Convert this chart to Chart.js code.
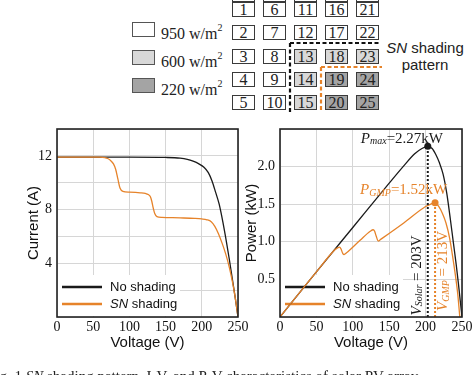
<!DOCTYPE html>
<html>
<head>
<meta charset="utf-8">
<script src="https://cdn.jsdelivr.net/npm/chart.js@4.4.1/dist/chart.umd.min.js"></script>
<style>
  html, body { margin: 0; padding: 0; background: #fff; }
  body { width: 474px; height: 375px; position: relative; overflow: hidden;
         font-family: "Liberation Serif", "Times New Roman", serif; color: #222; }
  .cell { position: absolute; width: 23px; height: 15px; box-sizing: border-box;
          border: 1.5px solid #3a3a3a; font-size: 16px; line-height: 13px; text-align: center; }
  .lg-box { position: absolute; left: 132px; width: 23px; height: 15px; box-sizing: border-box;
            border: 1.5px solid #555; }
  .lg-text { position: absolute; left: 161px; font-size: 16px; line-height: 16px; white-space: nowrap; }
  .lg-text sup { font-size: 10px; position: relative; top: -2px; }
  .sans { font-family: "Liberation Sans", Arial, sans-serif; }
  #ivChart { position: absolute; left: 0; top: 120px; }
  #pvChart { position: absolute; left: 240px; top: 120px; }
  #caption { position: absolute; left: -13px; top: 369px; font-size: 15px; line-height: 15px; white-space: nowrap; }
</style>
</head>
<body>

<div id="diagram"></div>

<svg width="474" height="120" style="position:absolute;left:0;top:0">
  <path d="M290 43 H380 M290 43 V112" stroke="#111" stroke-width="2.2" fill="none" stroke-dasharray="4 2.5"/>
  <path d="M321 67 H382 M321 67 V112" stroke="#e6832a" stroke-width="2.2" fill="none" stroke-dasharray="4 2.5"/>
</svg>

<div class="sans" style="position:absolute;left:386px;top:39px;font-size:15px;line-height:17px;text-align:center;width:78px">
  <i>SN</i> shading<br>pattern
</div>

<canvas id="ivChart" width="260" height="255"></canvas>
<canvas id="pvChart" width="234" height="255"></canvas>

<div id="caption">Fig. 1 <i>SN</i> shading pattern, I-V, and P-V characteristics of solar PV array</div>

<script>
// ---- shading pattern (modules numbered column by column)
const cellColumns = [
    [1, 2, 3, 4, 5],
    [6, 7, 8, 9, 10],
    [11, 12, 13, 14, 15],
    [16, 17, 18, 19, 20],
    [21, 22, 23, 24, 25]
];
const shaded600 = [13, 14, 15, 18, 23];
const shaded220 = [19, 20, 24, 25];
const irradianceLabels = ['950', '600', '220'];

// ---- I-V curves
const ivVoltNoShade = [0, 50, 100, 150, 170, 180, 188, 196, 203, 209, 214, 219, 224, 229, 234, 238, 242, 246, 250];
const ivCurrNoShade = [11.9, 11.9, 11.9, 11.88, 11.83, 11.74, 11.6, 11.4, 11.15, 10.75, 10.15, 9.3, 8.4, 7.1, 5.6, 4.3, 2.9, 1.5, 0];

const ivVoltSN = [0, 60, 66, 70, 74, 78, 81, 84, 87, 91, 100, 115, 122, 126, 129, 131, 133, 135, 138, 145, 170, 190, 200, 207, 213, 218, 223, 228, 233, 238, 242, 246, 250];
const ivCurrSN = [11.9, 11.9, 11.87, 11.8, 11.65, 11.4, 11.0, 10.3, 9.6, 9.35, 9.3, 9.25, 9.2, 9.12, 8.95, 8.6, 8.1, 7.7, 7.47, 7.42, 7.38, 7.34, 7.3, 7.24, 7.1, 6.75, 6.2, 5.5, 4.7, 3.7, 2.7, 1.5, 0];

// ---- P-V curves
const pvVoltNoShade = [0, 50, 100, 150, 170, 185, 195, 203, 209, 214, 219, 224, 229, 234, 238, 242, 245, 248, 250];
const pvPowNoShade = [0, 0.6, 1.19, 1.78, 2.01, 2.17, 2.24, 2.27, 2.24, 2.16, 2.05, 1.9, 1.65, 1.3, 1.0, 0.7, 0.45, 0.18, 0];

const pvVoltSN = [0, 50, 75, 79, 82, 84, 86, 88, 91, 110, 124, 128, 130, 132, 135, 138, 170, 200, 207, 213, 218, 223, 228, 233, 238, 241, 244, 247];
const pvPowSN = [0, 0.6, 0.89, 0.92, 0.93, 0.9, 0.85, 0.83, 0.85, 1.02, 1.14, 1.16, 1.14, 1.08, 1.01, 1.03, 1.25, 1.47, 1.5, 1.52, 1.47, 1.38, 1.25, 1.05, 0.75, 0.55, 0.32, 0];

const pmaxPoint = { v: 203, p: 2.27 };
const gmpPoint = { v: 213, p: 1.52 };

// ---- axes
const voltageRange = [0, 250];
const currentRange = [0, 14];
const powerRange = [0, 2.5];
const currentTickLabels = [4, 8, 12];
const powerTickLabels = [0.5, 1.0, 1.5, 2.0];

const BLACK = '#1a1a1a';
const ORANGE = '#e6832a';
const SERIF = '"Liberation Serif", "Times New Roman", serif';
const SANS = '"Liberation Sans", Arial, sans-serif';

// build the shading diagram
const diagram = document.getElementById('diagram');
const colX = [232, 263, 294, 325, 356];
const rowY = [2, 25, 49, 72, 95];
cellColumns.forEach((col, ci) => {
    // bottom edge of the row cut off above the picture
    const stub = document.createElement('div');
    stub.className = 'cell';
    stub.style.left = colX[ci] + 'px';
    stub.style.top = '-13px';
    diagram.appendChild(stub);
    col.forEach((num, ri) => {
        const cell = document.createElement('div');
        cell.className = 'cell';
        cell.style.left = colX[ci] + 'px';
        cell.style.top = rowY[ri] + 'px';
        cell.style.background = shaded220.includes(num) ? '#a4a4a4' : shaded600.includes(num) ? '#d8d8d8' : '#fff';
        cell.textContent = num;
        diagram.appendChild(cell);
    });
});
const lgColors = ['#fff', '#d8d8d8', '#a4a4a4'];
irradianceLabels.forEach((lab, i) => {
    const box = document.createElement('div');
    box.className = 'lg-box';
    box.style.top = (22 + i * 28) + 'px';
    box.style.background = lgColors[i];
    diagram.appendChild(box);
    const txt = document.createElement('div');
    txt.className = 'lg-text';
    txt.style.top = (22 + i * 28) + 'px';
    txt.innerHTML = lab + ' w/m<sup>2</sup>';
    diagram.appendChild(txt);
});

function toPoints(xs, ys) {
    return xs.map((x, i) => ({ x: x, y: ys[i] }));
}

function drawRich(ctx, x, y, parts) {
    let cx = x;
    parts.forEach(([text, font, dy]) => {
        ctx.font = font;
        ctx.fillText(text, cx, y + dy);
        cx += ctx.measureText(text).width;
    });
}

// frame round the plot area + legend box
const framePlugin = {
    id: 'frame',
    beforeDatasetsDraw(chart) {
        const ca = chart.chartArea;
        const ctx = chart.ctx;
        ctx.save();
        ctx.fillStyle = '#fff';
        ctx.fillRect(ca.left + 1, ca.top + 146, 122, ca.bottom - ca.top - 147);
        const rows = [[BLACK, [['No shading', '13px ' + SANS, 0]]],
                      [ORANGE, [['SN', 'italic 13px ' + SANS, 0], [' shading', '13px ' + SANS, 0]]]];
        rows.forEach(([color, parts], i) => {
            const y = ca.top + 158 + i * 17;
            ctx.strokeStyle = color;
            ctx.lineWidth = 2.5;
            ctx.beginPath();
            ctx.moveTo(ca.left + 5, y);
            ctx.lineTo(ca.left + 45, y);
            ctx.stroke();
            ctx.fillStyle = '#111';
            ctx.textBaseline = 'middle';
            drawRich(ctx, ca.left + 53, y, parts);
        });
        ctx.restore();
    },
    afterDraw(chart) {
        const ca = chart.chartArea;
        const ctx = chart.ctx;
        ctx.save();
        ctx.strokeStyle = '#222';
        ctx.lineWidth = 1.6;
        ctx.strokeRect(ca.left, ca.top, ca.right - ca.left, ca.bottom - ca.top);
        ctx.restore();
    }
};

// text notes on the P-V chart
const notePlugin = {
    id: 'notes',
    afterDatasetsDraw(chart) {
        const ctx = chart.ctx;
        const xs = chart.scales.x, ys = chart.scales.y;
        ctx.save();
        ctx.textBaseline = 'middle';
        ctx.textAlign = 'left';
        ctx.fillStyle = BLACK;
        drawRich(ctx, xs.getPixelForValue(111), ys.getPixelForValue(2.37), [
            ['P', 'italic 15px ' + SERIF, 0], ['max', 'italic 10px ' + SERIF, 3], ['=2.27kW', '15px ' + SERIF, 0]]);
        ctx.fillStyle = ORANGE;
        drawRich(ctx, xs.getPixelForValue(110), ys.getPixelForValue(1.69), [
            ['P', 'italic 15px ' + SERIF, 0], ['GMP', 'italic 10px ' + SERIF, 3], ['=1.52kW', '15px ' + SERIF, 0]]);

        const vert = (v, p, color, parts) => {
            ctx.save();
            ctx.translate(xs.getPixelForValue(v), ys.getPixelForValue(p));
            ctx.rotate(-Math.PI / 2);
            ctx.fillStyle = color;
            drawRich(ctx, 0, 0, parts);
            ctx.restore();
        };
        vert(188, 0.02, BLACK, [['V', 'italic 15px ' + SERIF, 0], ['Solar', 'italic 10px ' + SERIF, 3], [' = 203V', '15px ' + SERIF, 0]]);
        vert(224, 0.08, ORANGE, [['V', 'italic 15px ' + SERIF, 0], ['GMP', 'italic 10px ' + SERIF, 3], [' = 213V', '15px ' + SERIF, 0]]);
        ctx.restore();
    }
};

function voltageAxis() {
    return {
        type: 'linear',
        min: voltageRange[0],
        max: voltageRange[1],
        ticks: { stepSize: 50, padding: 2, color: '#111', autoSkip: false, maxRotation: 0,
                 font: { family: SERIF, size: 14 } },
        grid: { color: '#d6d6d6', lineWidth: 1, drawTicks: false },
        border: { display: false },
        title: { display: true, text: 'Voltage (V)', color: '#111',
                 font: { family: SANS, size: 15 }, padding: { top: 0, bottom: 23 } },
        afterFit(s) { s.height = 58; s.paddingLeft = 0; s.paddingRight = 0; }
    };
}

function valueAxis(range, step, labels, fmt, title, width, titlePad) {
    return {
        type: 'linear',
        min: range[0],
        max: range[1],
        ticks: { stepSize: step, padding: 5, color: '#111', autoSkip: false,
                 font: { family: SERIF, size: 14 },
                 callback: v => labels.includes(v) ? fmt(v) : '' },
        grid: { color: '#d6d6d6', lineWidth: 1, drawTicks: false },
        border: { display: false },
        title: { display: true, text: title, color: '#111',
                 font: { family: SANS, size: 15 }, padding: { top: titlePad, bottom: 0 } },
        afterFit(s) { s.width = width; s.paddingTop = 0; s.paddingBottom = 0; }
    };
}

function curve(points, color, order) {
    return { data: points, borderColor: color, borderWidth: 1.3, pointRadius: 0,
             showLine: true, cubicInterpolationMode: 'monotone', order: order };
}

const baseOptions = (scales, right) => ({
    responsive: false,
    animation: false,
    events: [],
    layout: { padding: { top: 9, right: right, bottom: 0, left: 0 } },
    plugins: { legend: { display: false }, tooltip: { enabled: false } },
    scales: scales
});

new Chart(document.getElementById('ivChart'), {
    type: 'scatter',
    data: {
        datasets: [
            curve(toPoints(ivVoltSN, ivCurrSN), ORANGE, 1),
            curve(toPoints(ivVoltNoShade, ivCurrNoShade), BLACK, 2)
        ]
    },
    options: baseOptions({
        x: voltageAxis(),
        y: valueAxis(currentRange, 2, currentTickLabels, v => String(v), 'Current (A)', 57, 24.5)
    }, 22),
    plugins: [framePlugin]
});

new Chart(document.getElementById('pvChart'), {
    type: 'scatter',
    data: {
        datasets: [
            { data: [{ x: pmaxPoint.v, y: pmaxPoint.p }, { x: gmpPoint.v, y: gmpPoint.p }],
              pointRadius: 3.5, pointBackgroundColor: [BLACK, ORANGE], pointBorderWidth: 0,
              showLine: false, order: 0 },
            { data: [{ x: pmaxPoint.v, y: 0 }, { x: pmaxPoint.v, y: pmaxPoint.p }], borderColor: BLACK,
              borderWidth: 2, borderDash: [2, 2], pointRadius: 0, showLine: true, order: 1 },
            { data: [{ x: gmpPoint.v, y: 0 }, { x: gmpPoint.v, y: gmpPoint.p }], borderColor: ORANGE,
              borderWidth: 2, borderDash: [2, 2], pointRadius: 0, showLine: true, order: 1 },
            curve(toPoints(pvVoltSN, pvPowSN), ORANGE, 2),
            curve(toPoints(pvVoltNoShade, pvPowNoShade), BLACK, 3)
        ]
    },
    options: baseOptions({
        x: voltageAxis(),
        y: valueAxis(powerRange, 0.5, powerTickLabels, v => v.toFixed(1), 'Power (kW)', 40, 3)
    }, 12),
    plugins: [framePlugin, notePlugin]
});
</script>
</body>
</html>
